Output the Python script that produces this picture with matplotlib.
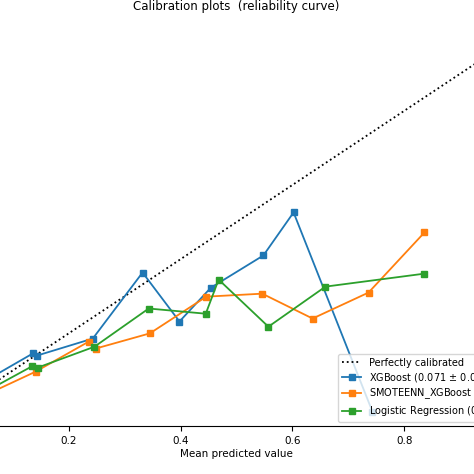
import numpy as np
import matplotlib
matplotlib.use('Agg')
import matplotlib.pyplot as plt

# Calibration curve values
xgb_x = [0.06, 0.136, 0.143, 0.243, 0.332, 0.398, 0.454, 0.548, 0.602, 0.743]
xgb_y = [0.08, 0.146, 0.140, 0.186, 0.364, 0.232, 0.323, 0.410, 0.526, -0.011]

smote_x = [0.06, 0.141, 0.236, 0.248, 0.345, 0.446, 0.546, 0.636, 0.736, 0.836]
smote_y = [0.04, 0.097, 0.178, 0.159, 0.200, 0.299, 0.307, 0.240, 0.310, 0.472]

lr_x = [0.06, 0.134, 0.145, 0.246, 0.343, 0.445, 0.468, 0.557, 0.659, 0.836]
lr_y = [0.05, 0.111, 0.108, 0.164, 0.267, 0.253, 0.345, 0.218, 0.326, 0.361]

labels = ["XGBoost (0.071 $\\pm$ 0.019)",
          "SMOTEENN_XGBoost (0.074 $\\pm$ 0.020)",
          "Logistic Regression (0.075 $\\pm$ 0.021)"]

fig = plt.figure(figsize=(4.74, 4.74), dpi=100)
# the original image is a crop, so the axes run past the figure edges
ax = fig.add_axes([-0.091, 0.101, 1.18, 0.861])

ax.plot([0, 1], [0, 1], "k:", lw=1.3, label="Perfectly calibrated")
ax.plot(xgb_x, xgb_y, "s-", color="#1f77b4", lw=1.3, label=labels[0], markersize=5)
ax.plot(smote_x, smote_y, "s-", color="#ff7f0e", lw=1.3, label=labels[1], markersize=5)
ax.plot(lr_x, lr_y, "s-", color="#2ca02c", lw=1.3, label=labels[2], markersize=5)

ax.set_xlim(0, 1)
ax.set_ylim(-0.05, 1.05)
ax.set_xticks([0.2, 0.4, 0.6, 0.8])
ax.set_yticks([])
ax.spines['top'].set_visible(False)
ax.tick_params(labelsize=7.5)
ax.set_xlabel("Mean predicted value", fontsize=7.5, labelpad=2)
ax.set_title("Calibration plots  (reliability curve)", fontsize=8.5)
ax.legend(loc="lower left", bbox_to_anchor=(0.703, 0.099),
          bbox_transform=fig.transFigure, fontsize=7, handlelength=2,
          borderpad=0.4, labelspacing=0.3)

fig.savefig("out.png", dpi=100)
